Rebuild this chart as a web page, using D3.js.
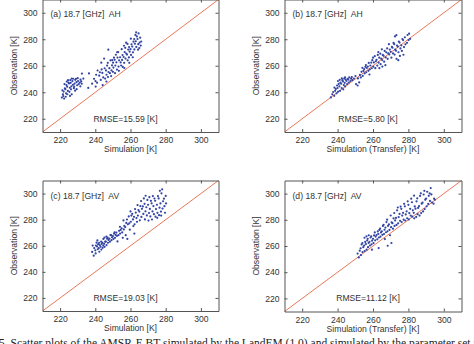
<!DOCTYPE html>
<html>
<head>
<meta charset="utf-8">
<script src="https://cdn.jsdelivr.net/npm/d3@7"></script>
<style>
  body { margin: 0; background: #fff; }
  svg { display: block; }
</style>
</head>
<body>
<div class="chart"></div>
<script>
// values, [simulation, observation] in K
var ptsA = [[221,236],[221.6,238.4],[222.3,235.2],[222,240.5],[222.7,243],[221.8,237.1],[223.4,239.2],[223,242.3],[223.6,245.4],[223.2,236.6],[224.4,241],[224,244.2],[224.7,247.3],[224.1,238.5],[225.5,243.4],[225.1,246.6],[225.8,249.2],[225.3,240.3],[226.4,244.5],[226,247.1],[226.6,250.3],[226.2,242.2],[227.3,245.6],[227,248.4],[227.8,243.1],[227.4,250.2],[228.2,246.5],[228.6,249.4],[228,244.2],[229.3,247.6],[229,250.1],[229.7,245.3],[230.2,248.5],[230.6,246.2],[230,250.6],[231.2,247.3],[231.6,249.5],[232.3,246.4],[232,248.2],[233.2,250.3],[222.5,246.2],[224.5,249.1],[226.6,238.4],[228.5,241.2],[221.3,241.5],[223.8,248.1],[225.6,237.2],[229.4,242.3],[231.5,244.5],[232.4,254.1],
  [236,243.3],[236.4,254.2],[238.2,246.5],[239.3,250.1],[240.1,248.4],[240.5,253.2],[241.3,256.4],[241,247.2],[242.2,252.5],[242.6,255.1],[243.1,249.3],[243.6,257.2],[244.2,245.4],[244.5,251.2],[244,254.6],[245.3,258.1],[245.6,250.3],[245,265.4],[246.4,253.2],[246.1,256.5],[246.7,260.1],[247.2,251.5],[247.5,255.3],[247.1,262.2],[247.4,272.1],[248.3,254.4],[248,258.2],[248.6,264.1],[249.2,256.5],[249.5,260.3],[249,252.2],[250.3,258.6],[250.1,262.3],[250.6,266.1],[250,255.4],[251.4,260.2],[251,264.5],[251.7,268.3],[252.3,257.1],[252,262.6],[252.6,266.2],[253.2,259.4],[253.5,264.1],[253,270.3],[254.4,262.5],[254.1,266.4],[254.7,260.2],[255.2,264.4],[255.5,268.1],[255,272.5],[256.4,262.2],[256.1,266.6],[256.7,270.3],[256.3,275.1],[257.2,265.4],[257.6,269.2],[257,273.5],[258.4,264.1],[258,268.4],[258.7,272.2],[258.3,276.5],[259.1,266.3],[259.5,270.6],[259.2,274.1],[260.3,268.2],[260,272.5],[260.6,276.2],[260.2,280.4],[261.4,270.1],[261,274.5],[261.7,278.2],[261.3,266.4],[262.2,272.3],[262.5,276.6],[262.1,280.1],[262.8,283.3],[263.3,274.2],[263,278.5],[263.6,282.1],[263.2,285.2],[264.4,276.3],[264,280.2],[264.6,284.4],[265.2,277.5],[265.5,281.2],[266.1,278.3],[265.8,275.2],[265,273.4],[264.3,272.1],[256.5,258.3],[253.4,256.2],[251.2,254.4],[249.6,264.2],[246.3,248.1],[243.4,262.3],[240.2,244.3],[257.5,277.4],[259.3,262.2],[255.6,259.1],[252.4,270.2]];

var ptsB = [[236.2,236.1],[237,238.4],[237.5,240.2],[238.1,237.3],[238.6,241.1],[238.2,243.5],[239.4,239.2],[239,242.5],[239.7,245.1],[240.3,240.4],[240,243.2],[240.6,246.3],[240.2,248.5],[241.4,241.1],[241,244.5],[241.6,247.2],[241.2,249.4],[242.3,243.2],[242,246.4],[242.7,249.1],[242.4,250.5],[243.2,242.2],[243.5,245.4],[243,248.2],[243.7,250.3],[244.3,244.4],[244,247.1],[244.6,249.5],[244.2,251.2],[245.4,246.2],[245,248.5],[245.7,250.1],[246.3,247.3],[246,249.6],[246.6,251.2],[247.2,248.4],[247.6,250.2],[248.3,249.1],[248,251.4],[249.2,250.3],[250.4,246.2],[251.3,245.1],[252.2,247.4],[250.1,252.2],[251.5,250.4],[252.6,253.1],[253.1,251.2],[253.5,255.4],[254.2,252.3],[254.6,256.1],[254,258.4],[255.3,254.2],[255,257.5],[255.7,259.2],[256.2,255.1],[256.5,258.3],[256,260.5],[257.4,256.2],[257.1,259.4],[257.6,262.1],[258.2,257.3],[258.5,260.2],[258,253.4],[259.3,258.1],[259,262.4],[259.6,264.2],[260.2,259.3],[260.5,262.5],[260,266.1],[261.3,258.2],[261.6,263.4],[261,267.2],[262.4,260.1],[262,264.5],[262.7,268.2],[263.2,262.4],[263.5,266.1],[263,270.3],[264.3,261.2],[264.6,265.4],[264.1,269.1],[265.2,264.3],[265.5,268.2],[265,272.4],[266.3,263.1],[266,267.5],[266.6,271.2],[267.2,266.3],[267.5,270.1],[267,260.4],[268.3,265.2],[268.6,269.4],[268,273.1],[269.2,268.5],[269.5,272.2],[269,276.3],[270.4,266.1],[270,270.5],[270.7,274.2],[271.3,269.3],[271,273.6],[271.6,277.2],[272.2,268.4],[272.5,272.1],[272,276.3],[273.3,265.2],[273,271.4],[273.6,275.2],[273.2,283.1],[274.4,270.2],[274,274.5],[274.6,278.3],[275.2,267.4],[275.5,273.1],[275,277.5],[276.3,271.2],[276,275.4],[276.6,280.2],[277.2,268.3],[277.5,274.1],[277,279.4],[278.3,276.2],[278,281.5],[279.2,277.3],[279.5,283.2],[280.1,279.4],[280.4,284.2],[281,280.3],[274.3,264.2],[272.4,282.1],[263.6,258.2],[265.3,259.4]];

var ptsC = [[238.2,255.3],[238.5,260.1],[239.1,252.4],[239.4,258.2],[240,256.5],[240.3,260.2],[240.7,262.4],[240.2,254.1],[241.4,257.3],[241,259.5],[241.6,261.2],[241.2,264.1],[242.3,255.4],[242,258.2],[242.6,260.5],[242.2,262.3],[243.4,257.1],[243,259.3],[243.7,261.5],[243.3,263.2],[244.2,258.4],[244.5,260.1],[244,262.5],[244.6,265.2],[245.3,259.2],[245,261.5],[245.6,263.1],[245.2,266.3],[246.4,260.5],[246,263.2],[246.7,265.4],[246.3,267.1],[247.2,262.3],[247.5,264.5],[247,266.2],[248.3,263.1],[248,265.4],[248.6,268.2],[249.2,264.3],[249.5,266.5],[249,268.1],[250.3,265.2],[250,267.4],[250.6,269.3],[251.2,266.1],[251.5,268.4],[251,270.2],[252.3,267.5],[252,270.1],[252.6,263.3],[253.2,268.2],[253.5,271.4],[254.1,269.3],[254.4,272.1],[254,274.5],[255.3,270.2],[255,273.4],[255.6,266.1],[256.2,272.5],[256.5,275.2],[256,279.4],[257.3,268.1],[257,274.3],[257.6,277.5],[258.2,265.2],[258.5,276.4],[258,280.1],[259.3,277.2],[259,282.5],[259.6,272.3],[260.2,278.4],[260.5,283.1],[260,286.3],[261.4,280.2],[261,284.5],[261.6,275.1],[262.3,276.4],[262,282.2],[262.6,288.1],[262.2,269.3],[263.4,281.2],[263,285.4],[263.7,278.3],[264.2,283.1],[264.5,287.4],[264,291.2],[265.3,279.5],[265,286.2],[265.6,290.4],[266.2,282.1],[266.5,288.3],[266,294.2],[267.3,284.4],[267,290.1],[267.6,296.3],[268.2,280.2],[268.5,286.4],[268,292.1],[268.6,298.3],[269.3,283.2],[269,289.5],[269.6,295.1],[270.2,279.3],[270.5,285.1],[270,291.4],[270.7,297.2],[271.3,282.5],[271,288.2],[271.6,294.4],[272.2,280.1],[272.5,286.3],[272,292.5],[272.7,298.1],[273.3,284.2],[273,290.4],[273.6,296.2],[274.2,282.3],[274.5,288.1],[274,294.5],[275.3,285.2],[275,291.4],[275.6,298.1],[276.2,283.4],[276.5,289.2],[276,296.3],[276.7,302.1],[277.3,286.2],[277,292.4],[277.6,300.2],[278.2,288.5],[278.5,294.1],[278,303.2],[279.3,290.3],[279,296.1],[280.2,292.4],[280,298.2],[279.6,285.3],[277.4,283.1],[275.2,281.4]];

var ptsD = [[251.3,254.2],[252,251.3],[252.5,256.4],[253.2,253.1],[253,258.3],[253.6,261.2],[254.1,255.4],[254.5,259.1],[254,262.3],[255.3,256.2],[255,260.4],[255.6,263.1],[255.2,266.3],[256.4,257.2],[256,261.5],[256.7,264.2],[256.3,267.4],[257.2,259.1],[257.5,262.3],[257,265.5],[257.6,268.2],[258.3,260.4],[258,263.2],[258.6,266.5],[259.2,261.3],[259.5,264.1],[259,267.4],[260.3,262.2],[260,265.5],[260.6,268.1],[261.2,264.3],[261.5,267.2],[261,270.4],[262.4,265.1],[262,268.4],[262.7,271.2],[263.3,266.5],[263,269.2],[263.6,272.3],[264.2,267.1],[264.5,270.4],[264,273.2],[265.3,268.5],[265,271.2],[265.6,275.3],[266.2,269.1],[266.5,272.4],[266,276.2],[266.7,265.3],[267.3,270.5],[267,274.1],[267.6,278.3],[268.2,271.2],[268.5,275.4],[268,280.1],[269.3,272.3],[269,276.5],[269.6,268.2],[270.2,274.4],[270.5,278.1],[270,283.3],[271.3,273.2],[271,277.4],[271.6,281.1],[272.2,275.3],[272.5,279.5],[272,285.2],[273.3,276.1],[273,281.4],[273.6,287.2],[274.2,277.3],[274.5,282.1],[274,289.4],[275.3,279.2],[275,284.5],[275.6,290.1],[276.2,278.3],[276.5,283.2],[276,288.4],[277.3,280.1],[277,285.3],[277.6,292.2],[278.2,279.4],[278.5,284.1],[278,290.3],[279.3,281.2],[279,286.5],[279.6,294.1],[280.2,280.3],[280.5,285.1],[280,291.4],[281.3,283.2],[281,288.4],[281.6,296.1],[282.2,282.5],[282.5,287.2],[282,293.4],[283.3,281.1],[283,285.3],[283.6,290.2],[283.2,298.4],[284.4,282.2],[284,288.5],[284.6,294.1],[285.2,284.3],[285.5,289.1],[285,296.4],[286.3,283.2],[286,290.4],[286.6,298.2],[287.2,285.1],[287.5,292.3],[287,300.2],[288.3,286.4],[288,293.1],[288.6,299.3],[289.2,288.2],[289.5,295.4],[289,302.1],[290.3,290.3],[290,296.2],[290.6,301.4],[291.2,292.1],[291.5,298.3],[292.2,294.4],[292,300.1],[292.6,304.2],[293.3,293.2],[293,299.4],[294.2,292.3],[294.5,296.1],[295,295.3],[268.3,260.2],[270.4,262.3],[263.2,258.4],[259.4,257.2]];

var titles = ["(a) 18.7 [GHz]  AH", "(b) 18.7 [GHz]  AH", "(c) 18.7 [GHz]  AV", "(d) 18.7 [GHz]  AV"];
var rmseLabels = ["RMSE=15.59 [K]", "RMSE=5.80 [K]", "RMSE=19.03 [K]", "RMSE=11.12 [K]"];
var xLabels = ["Simulation [K]", "Simulation (Transfer) [K]", "Simulation [K]", "Simulation (Transfer) [K]"];
var yLabel = "Observation [K]";
var tickValues = [220, 240, 260, 280, 300];
var axisRange = [210, 310];
var caption = "5. Scatter plots of the AMSR-E BT simulated by the LandEM (1.0) and simulated by the parameter set t";

var allPts = [ptsA, ptsB, ptsC, ptsD];

var svg = d3.select(".chart").append("svg")
    .attr("width", 474)
    .attr("height", 344)
    .attr("font-family", "'Liberation Sans', Arial, sans-serif");

// panel boxes: left, top, width, height
var boxes = [
    {left: 42.5, top: -0.5, w: 176, h: 132.5},
    {left: 284.5, top: -0.5, w: 177, h: 132.5},
    {left: 42.5, top: 180.5, w: 176, h: 130.5},
    {left: 284.5, top: 180.5, w: 177, h: 131}
];

boxes.forEach(function(b, i) {
    var g = svg.append("g").attr("transform", "translate(" + b.left + "," + b.top + ")");

    var x = d3.scaleLinear().domain(axisRange).range([0, b.w]);
    var y = d3.scaleLinear().domain(axisRange).range([b.h, 0]);

    // 1:1 line
    g.append("line")
        .attr("x1", x(axisRange[0]))
        .attr("y1", y(axisRange[0]))
        .attr("x2", x(axisRange[1]))
        .attr("y2", y(axisRange[1]))
        .attr("stroke", "#e9785a")
        .attr("stroke-width", 1);

    g.selectAll("circle.pt")
        .data(allPts[i])
        .enter().append("circle")
        .attr("class", "pt")
        .attr("cx", function(d) { return x(d[0]); })
        .attr("cy", function(d) { return y(d[1]); })
        .attr("r", 1.1)
        .attr("fill", "#3345a3");

    // axes, ticks pointing inward on all four sides
    var axB = d3.axisBottom(x).tickValues(tickValues).tickSizeInner(-3).tickSizeOuter(0).tickPadding(5);
    var axL = d3.axisLeft(y).tickValues(tickValues).tickSizeInner(-3).tickSizeOuter(0).tickPadding(5);
    var axT = d3.axisTop(x).tickValues(tickValues).tickSizeInner(-3).tickSizeOuter(0).tickFormat("");
    var axR = d3.axisRight(y).tickValues(tickValues).tickSizeInner(-3).tickSizeOuter(0).tickFormat("");

    var gb = g.append("g").attr("transform", "translate(0," + b.h + ")").call(axB);
    var gl = g.append("g").call(axL);
    var gt = g.append("g").call(axT);
    var gr = g.append("g").attr("transform", "translate(" + b.w + ",0)").call(axR);

    [gb, gl, gt, gr].forEach(function(a) {
        a.selectAll("path, line").attr("stroke", "#555").attr("stroke-width", 1);
        a.selectAll("text").attr("fill", "#333").attr("font-size", 8.6).attr("font-family", null);
    });

    g.append("text")
        .attr("x", 8)
        .attr("y", (i < 2 ? 17 : 18.5))
        .attr("font-size", 8.6)
        .attr("fill", "#333")
        .attr("xml:space", "preserve")
        .style("white-space", "pre")
        .text(titles[i]);

    g.append("text")
        .attr("x", b.w / 2 - 5)
        .attr("y", b.h - 10.5)
        .attr("text-anchor", "middle")
        .attr("font-size", 8.6)
        .attr("fill", "#333")
        .text(rmseLabels[i]);

    g.append("text")
        .attr("x", b.w / 2)
        .attr("y", b.h + 20)
        .attr("text-anchor", "middle")
        .attr("font-size", 8.6)
        .attr("fill", "#333")
        .text(xLabels[i]);

    g.append("text")
        .attr("transform", "translate(-26," + (b.h / 2) + ") rotate(-90)")
        .attr("text-anchor", "middle")
        .attr("font-size", 8.6)
        .attr("fill", "#333")
        .text(yLabel);
});

// figure caption, cut by the bottom edge as in the scan
svg.append("text")
    .attr("x", -1)
    .attr("y", 346.5)
    .attr("font-family", "'Liberation Serif', 'DejaVu Serif', serif")
    .attr("font-size", 11.5)
    .attr("fill", "#222")
    .text(caption);
</script>
</body>
</html>
